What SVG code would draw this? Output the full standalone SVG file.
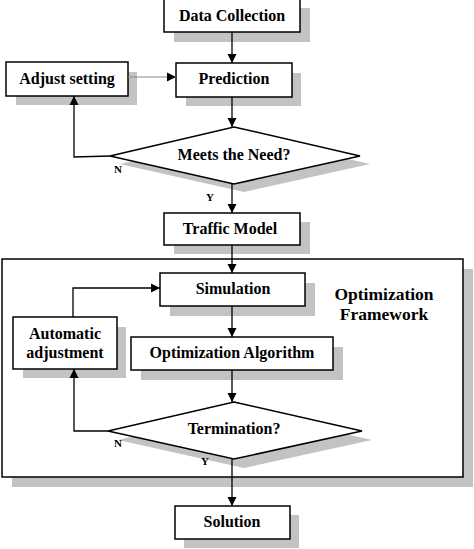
<svg xmlns="http://www.w3.org/2000/svg" width="474" height="549" viewBox="0 0 474 549">
<defs>
<marker id="ah" markerWidth="10" markerHeight="10" refX="9" refY="5" orient="auto" markerUnits="userSpaceOnUse">
<path d="M0,0.5 L9,5 L0,9.5 Z" fill="#000"/>
</marker>
<style>
.box{fill:#fff;stroke:#000;stroke-width:1.5}
.sh{fill:#c3c3c3;stroke:none}
.t{font-family:"Liberation Serif","Times New Roman",serif;font-weight:bold;font-size:16px;text-anchor:middle;fill:#000}
.f{font-family:"Liberation Serif","Times New Roman",serif;font-weight:bold;font-size:17.5px;text-anchor:middle;fill:#000}
.l{font-family:"Liberation Serif","Times New Roman",serif;font-weight:bold;font-size:11px;text-anchor:middle;fill:#000}
.c{fill:none;stroke:#000;stroke-width:1.3}
</style>
</defs>
<rect width="474" height="549" fill="#fff"/>
<g id="framework">
<rect class="sh" x="12" y="269" width="461" height="218"/>
<rect x="2" y="259" width="461" height="218" fill="#fff" stroke="#000" stroke-width="1.5"/>
<text class="f" x="384" y="300">Optimization</text>
<text class="f" x="384" y="320">Framework</text>
</g>
<g id="data-collection">
<rect class="sh" x="174" y="8" width="136" height="34"/>
<rect class="box" x="164" y="-2" width="136" height="34"/>
<text class="t" x="232" y="21">Data Collection</text>
</g>
<g id="adjust-setting">
<rect class="sh" x="16" y="72" width="121" height="33"/>
<rect class="box" x="6" y="62" width="122" height="34"/>
<text class="t" x="67" y="84">Adjust setting</text>
</g>
<g id="prediction">
<rect class="sh" x="186" y="73" width="115" height="33"/>
<rect class="box" x="176" y="63" width="116" height="34"/>
<text class="t" x="234" y="84">Prediction</text>
</g>
<g id="meets-need">
<polygon class="sh" points="244,135 370,164 244,192 120,164"/>
<polygon class="box" points="234,127 360,156 234,184 110,156"/>
<text class="t" x="234" y="160">Meets the Need?</text>
</g>
<g id="traffic-model">
<rect class="sh" x="174" y="222" width="136" height="32"/>
<rect class="box" x="164" y="213" width="136" height="32"/>
<text class="t" x="230" y="234">Traffic Model</text>
</g>
<g id="simulation">
<rect class="sh" x="170" y="283" width="145" height="33"/>
<rect class="box" x="160" y="273" width="145" height="33"/>
<text class="t" x="233" y="294">Simulation</text>
</g>
<g id="automatic-adjustment">
<rect class="sh" x="23" y="327" width="103" height="51"/>
<rect class="box" x="13" y="317" width="104" height="52"/>
<text class="t" x="65" y="339">Automatic</text>
<text class="t" x="65" y="358">adjustment</text>
</g>
<g id="optimization-algorithm">
<rect class="sh" x="141" y="347" width="202" height="33"/>
<rect class="box" x="131" y="337" width="202" height="33"/>
<text class="t" x="232" y="358">Optimization Algorithm</text>
</g>
<g id="termination">
<polygon class="sh" points="244,411 372,440 244,468 118,440"/>
<polygon class="box" points="234,402 362,431 234,459 108,431"/>
<text class="t" x="234" y="434">Termination?</text>
</g>
<g id="solution">
<rect class="sh" x="184" y="515" width="115" height="33"/>
<rect class="box" x="175" y="506" width="115" height="33"/>
<text class="t" x="232" y="527">Solution</text>
</g>
<g id="connectors">
<line class="c" x1="232" y1="32" x2="232" y2="63" marker-end="url(#ah)"/>
<line x1="128" y1="77" x2="176" y2="77" stroke="#888" stroke-width="1.2" marker-end="url(#ah)"/>
<line class="c" x1="232" y1="97" x2="232" y2="127" marker-end="url(#ah)"/>
<polyline class="c" points="110,156 74,157 74,96" marker-end="url(#ah)"/>
<line class="c" x1="232" y1="184" x2="232" y2="213" marker-end="url(#ah)"/>
<line class="c" x1="232" y1="245" x2="232" y2="273" marker-end="url(#ah)"/>
<polyline class="c" points="73,317 73,288 160,288" marker-end="url(#ah)"/>
<line class="c" x1="232" y1="306" x2="232" y2="337" marker-end="url(#ah)"/>
<line class="c" x1="232" y1="370" x2="232" y2="402" marker-end="url(#ah)"/>
<polyline class="c" points="108,431 74,431 74,369" marker-end="url(#ah)"/>
<line class="c" x1="232" y1="459" x2="232" y2="506" marker-end="url(#ah)"/>
<text class="l" x="118" y="173">N</text>
<text class="l" x="210" y="201">Y</text>
<text class="l" x="118" y="447">N</text>
<text class="l" x="205" y="465">Y</text>
</g>
</svg>
